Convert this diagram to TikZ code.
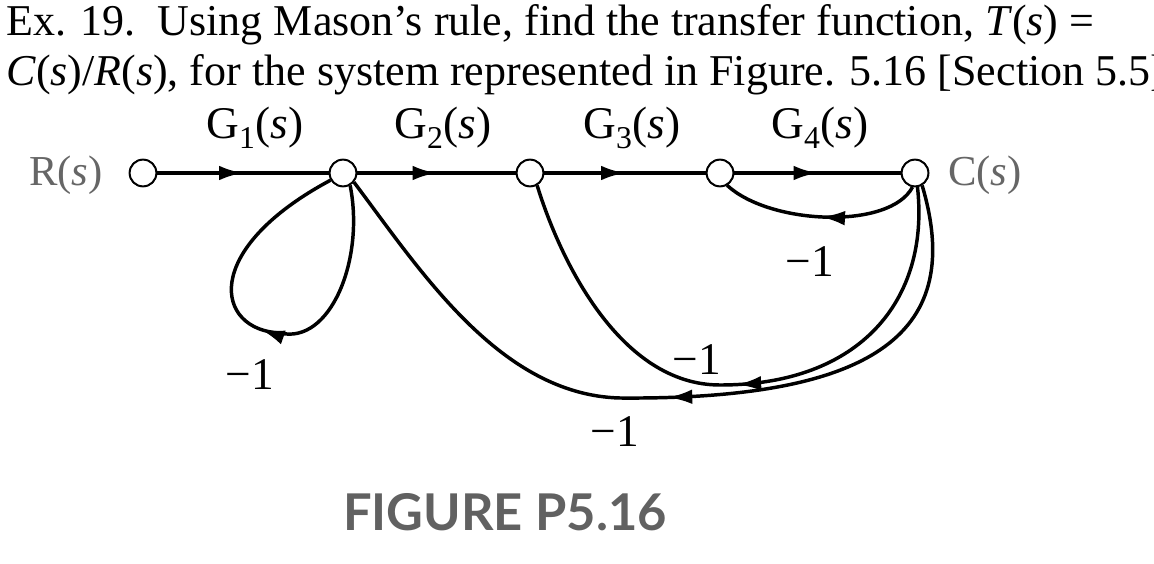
\documentclass[tikz,border=0pt]{standalone}
\usepackage{fontspec}
\setmainfont{Liberation Serif}
\newfontfamily\capfont{Lato}
\usetikzlibrary{decorations.markings,arrows.meta}
\begin{document}
\begin{tikzpicture}[x=0.75pt,y=-0.75pt,
  sn/.style={circle,draw,line width=1.4pt,minimum size=20pt,inner sep=0pt,fill=white},
  br/.style={line width=2.6pt,postaction={decorate},decoration={markings,mark=at position #1 with {\arrow{Latex[length=18pt,width=11pt]}}}},
  br/.default=0.5,
  lab/.style={font=\fontsize{34}{36}\selectfont},
  glab/.style={font=\fontsize{32}{34}\selectfont,text=black!60}]
\useasboundingbox (0,0) rectangle (1154,564);
\clip (0,0) rectangle (1154,564);
\node[anchor=west,font=\fontsize{33}{36}\selectfont,inner sep=0] (t1) at (6,25) {Ex. 19.\ \ Using Mason’s rule, find the transfer function, \textit{T}(\textit{s}) =};
\node[anchor=west,font=\fontsize{33}{36}\selectfont,inner sep=0] (t2) at (6,75) {\textit{C}(\textit{s})/\textit{R}(\textit{s}), for the system represented in Figure. 5.16 [Section 5.5]};
\node[sn] (n1) at (143,173) {};
\node[sn] (n2) at (343,173) {};
\node[sn] (n3) at (530,173) {};
\node[sn] (n4) at (720,173) {};
\node[sn] (n5) at (915,173) {};
\draw[br] (n1) -- (n2);
\draw[br] (n2) -- (n3);
\draw[br] (n3) -- (n4);
\draw[br] (n4) -- (n5);
\draw[br=0.5] (n2.-60) .. controls (365,260) and (330,345) .. (280,333) .. controls (215,330) and (200,250) .. (n2.-150);
\draw[br=0.5] (n5.-100) .. controls (890,230) and (770,225) .. (n4.-60);
\draw[br=0.5] (n5.-80) .. controls (930,300) and (860,385) .. (720,385) .. controls (620,385) and (560,260) .. (n3.-60);
\draw[br=0.5] (n5.-60) .. controls (965,330) and (880,400) .. (620,398) .. controls (500,395) and (420,270) .. (n2.-40);
\node[sn] at (n1) {};\node[sn] at (n2) {};\node[sn] at (n3) {};\node[sn] at (n4) {};\node[sn] at (n5) {};
\node[lab] (g1) at (255,128) {G\textsubscript{1}(\textit{s})};
\node[lab] (g2) at (443,128) {G\textsubscript{2}(\textit{s})};
\node[lab] (g3) at (632,128) {G\textsubscript{3}(\textit{s})};
\node[lab] (g4) at (820,128) {G\textsubscript{4}(\textit{s})};
\node[glab] (r) at (66,175) {R(\textit{s})};
\node[glab] (c) at (985,175) {C(\textit{s})};
\node[lab] (m1) at (250,375) {−1};
\node[lab] (m2) at (810,262) {−1};
\node[lab] (m3) at (697,360) {−1};
\node[lab] (m4) at (615,432) {−1};
\node[font=\capfont\bfseries\fontsize{38}{40}\selectfont,text=black!62] (cap) at (505,512) {FIGURE P5.16};
\end{tikzpicture}
\end{document}
